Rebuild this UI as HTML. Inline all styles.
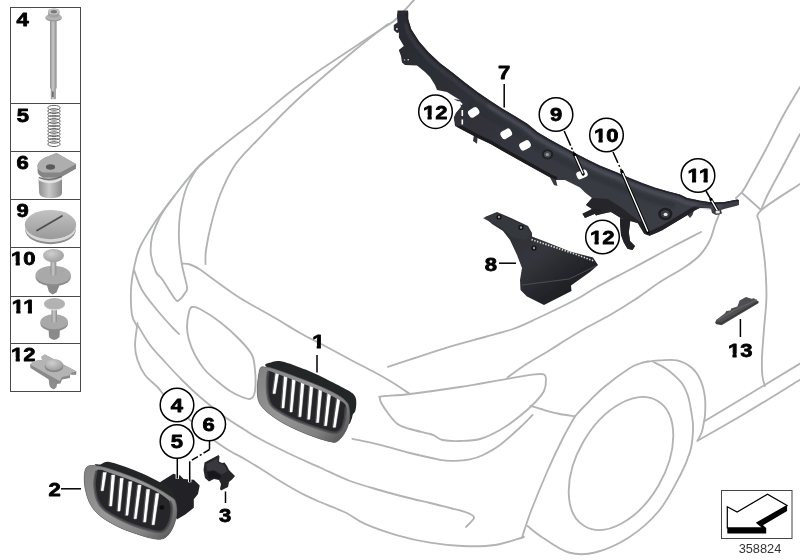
<!DOCTYPE html>
<html><head><meta charset="utf-8"><title>358824</title>
<style>
html,body{margin:0;padding:0;background:#fff;}
body{width:800px;height:560px;overflow:hidden;}
svg{display:block;}
text{font-family:"Liberation Sans",sans-serif;}
.b{font-weight:700;fill:#000;stroke:#000;stroke-width:0.8px;stroke-linejoin:round;}
</style></head><body>
<svg width="800" height="560" viewBox="0 0 800 560">
<defs>
<linearGradient id="cw" gradientUnits="userSpaceOnUse" x1="560" y1="135" x2="540" y2="175"><stop offset="0" stop-color="#33353b"/><stop offset="0.35" stop-color="#44464d"/><stop offset="0.6" stop-color="#2d2f35"/><stop offset="1" stop-color="#202226"/></linearGradient>
<filter id="bl0" x="-2%" y="-2%" width="104%" height="104%"><feGaussianBlur stdDeviation="0.35"/></filter>
<filter id="bl" x="-5%" y="-5%" width="110%" height="110%"><feGaussianBlur stdDeviation="0.45"/></filter>
<filter id="bl2" x="-5%" y="-5%" width="110%" height="110%"><feGaussianBlur stdDeviation="0.8"/></filter>
<linearGradient id="cwg" gradientUnits="userSpaceOnUse" x1="400" y1="10" x2="720" y2="205"><stop offset="0" stop-color="#292b31"/><stop offset="0.3" stop-color="#2f3138"/><stop offset="0.55" stop-color="#373941"/><stop offset="1" stop-color="#3b3d45"/></linearGradient>
<linearGradient id="p8" gradientUnits="userSpaceOnUse" x1="500" y1="220" x2="560" y2="300"><stop offset="0" stop-color="#2a2c31"/><stop offset="0.5" stop-color="#34363c"/><stop offset="1" stop-color="#1d1e22"/></linearGradient>
<linearGradient id="fr1" gradientUnits="userSpaceOnUse" x1="258" y1="370" x2="335" y2="445"><stop offset="0" stop-color="#828282"/><stop offset="0.45" stop-color="#969696"/><stop offset="0.8" stop-color="#808080"/><stop offset="1" stop-color="#5a5a5a"/></linearGradient>
<linearGradient id="fr2" gradientUnits="userSpaceOnUse" x1="86" y1="468" x2="162" y2="542"><stop offset="0" stop-color="#828282"/><stop offset="0.45" stop-color="#989898"/><stop offset="0.8" stop-color="#848484"/><stop offset="1" stop-color="#606060"/></linearGradient>
<clipPath id="c1_190_m"><rect x="-40" y="-21.00" width="80" height="17.36"/><rect x="-0.19" y="-4.14" width="3.51" height="5.64"/></clipPath>
<clipPath id="c13_190_m"><rect x="-40" y="-21.00" width="80" height="17.36"/><rect x="-6.89" y="-4.14" width="3.51" height="5.64"/><rect x="-0.11" y="-4.14" width="10.17" height="6.64"/></clipPath>
<clipPath id="c12_190_m"><rect x="-40" y="-21.00" width="80" height="17.36"/><rect x="-6.85" y="-4.14" width="3.51" height="5.64"/><rect x="-0.07" y="-4.14" width="10.17" height="6.64"/></clipPath>
<clipPath id="c10_190_m"><rect x="-40" y="-21.00" width="80" height="17.36"/><rect x="-6.84" y="-4.14" width="3.51" height="5.64"/><rect x="-0.06" y="-4.14" width="10.17" height="6.64"/></clipPath>
<clipPath id="c11_190_m"><rect x="-40" y="-21.00" width="80" height="17.36"/><rect x="-5.17" y="-4.14" width="3.51" height="5.64"/><rect x="4.80" y="-4.14" width="3.51" height="5.64"/></clipPath>
<linearGradient id="gm" x1="0" x2="1" y1="0" y2="0"><stop offset="0" stop-color="#8e8e8e"/><stop offset="0.45" stop-color="#c9c9c9"/><stop offset="1" stop-color="#8a8a8a"/></linearGradient>
<linearGradient id="gd" x1="0" x2="0" y1="0" y2="1"><stop offset="0" stop-color="#c2c2c2"/><stop offset="1" stop-color="#9a9a9a"/></linearGradient>
<radialGradient id="gr" cx="0.4" cy="0.35" r="0.7"><stop offset="0" stop-color="#cfcfcf"/><stop offset="1" stop-color="#9c9c9c"/></radialGradient>
<clipPath id="c10_190_s"><rect x="-40" y="-21.00" width="80" height="17.36"/><rect x="2.69" y="-4.14" width="3.51" height="5.64"/><rect x="9.47" y="-4.14" width="10.17" height="6.64"/></clipPath>
<clipPath id="c11_190_s"><rect x="-40" y="-21.00" width="80" height="17.36"/><rect x="2.69" y="-4.14" width="3.51" height="5.64"/><rect x="12.65" y="-4.14" width="3.51" height="5.64"/></clipPath>
<clipPath id="c12_190_s"><rect x="-40" y="-21.00" width="80" height="17.36"/><rect x="2.69" y="-4.14" width="3.51" height="5.64"/><rect x="9.47" y="-4.14" width="10.17" height="6.64"/></clipPath>
</defs>
<rect width="800" height="560" fill="#fff"/>
<g fill="none" stroke="#b2b3b5" stroke-width="1.85" filter="url(#bl0)" stroke-linecap="round" stroke-linejoin="round">
<path d="M414.0,0.0 C410.8,3.3 400.7,15.0 395.0,20.0 C389.3,25.0 387.5,25.0 380.0,30.0 C372.5,35.0 360.0,43.3 350.0,50.0 C340.0,56.7 330.0,63.0 320.0,70.0 C310.0,77.0 300.0,84.2 290.0,92.0 C280.0,99.8 270.0,109.0 260.0,117.0 C250.0,125.0 240.0,132.0 230.0,140.0 C220.0,148.0 209.2,155.8 200.0,165.0 C190.8,174.2 182.5,185.5 175.0,195.0 C167.5,204.5 160.8,213.3 155.0,222.0 C149.2,230.7 143.5,239.3 140.0,247.0 C136.5,254.7 135.5,260.8 134.0,268.0 C132.5,275.2 131.3,282.2 131.0,290.0 C130.7,297.8 131.0,309.0 132.0,315.0 C133.0,321.0 136.2,324.2 137.0,326.0"/>
<path d="M388.0,24.0 C382.5,28.3 370.2,37.3 355.0,50.0 C339.8,62.7 313.2,85.0 297.0,100.0 C280.8,115.0 267.8,129.2 257.5,140.0 C247.2,150.8 241.2,155.8 235.0,165.0 C228.8,174.2 224.0,185.0 220.0,195.0 C216.0,205.0 213.3,215.8 211.0,225.0 C208.7,234.2 206.9,243.5 206.0,250.0 C205.1,256.5 205.6,261.7 205.5,264.0"/>
<path d="M213.0,154.0 C211.6,155.2 207.3,158.6 204.5,161.3 C201.7,164.0 199.1,165.4 196.0,170.0 C192.9,174.6 188.7,181.5 186.0,189.0 C183.3,196.5 181.2,206.5 180.0,215.0 C178.8,223.5 178.7,231.7 179.0,240.0 C179.3,248.3 180.7,257.2 182.0,265.0 C183.3,272.8 186.5,282.3 187.0,287.0 C187.5,291.7 186.3,290.8 185.0,293.0 C183.7,295.2 180.7,299.0 179.0,300.0 C177.3,301.0 177.8,302.5 175.0,299.0 C172.2,295.5 165.2,283.5 162.0,279.0 C158.8,274.5 157.8,276.0 156.0,272.0 C154.2,268.0 151.7,260.8 151.0,255.0 C150.3,249.2 150.7,243.0 152.0,237.0 C153.3,231.0 156.5,224.2 159.0,219.0 C161.5,213.8 164.4,209.8 167.0,206.0 C169.6,202.2 173.2,197.7 174.5,196.0"/>
<path d="M182.0,263.5 C183.3,263.7 187.0,263.5 190.0,264.5 C193.0,265.5 195.8,266.8 200.0,269.5 C204.2,272.2 208.3,275.8 215.0,280.5 C221.7,285.2 230.0,291.8 240.0,298.0 C250.0,304.2 265.0,312.2 275.0,318.0 C285.0,323.8 291.7,328.3 300.0,333.0 C308.3,337.7 316.7,341.6 325.0,346.0 C333.3,350.4 341.7,355.1 350.0,359.5 C358.3,363.9 367.9,368.7 375.0,372.5 C382.1,376.3 386.7,378.9 392.5,382.5 C398.3,386.1 407.1,392.1 410.0,394.0"/>
<path d="M134.0,270.0 C135.3,273.3 138.2,283.3 142.0,290.0 C145.8,296.7 152.0,303.8 157.0,310.0 C162.0,316.2 168.3,323.0 172.0,327.0 C175.7,331.0 177.8,332.8 179.0,334.0"/>
<path d="M137.5,323.0 C137.1,326.7 135.0,338.8 135.0,345.0 C135.0,351.2 135.8,355.0 137.5,360.0 C139.2,365.0 141.7,370.5 145.0,375.0 C148.3,379.5 154.2,383.5 157.5,387.0 C160.8,390.5 159.6,390.5 165.0,396.0 C170.4,401.5 181.7,412.5 190.0,420.0 C198.3,427.5 208.3,435.8 215.0,441.0 C221.7,446.2 225.0,448.0 230.0,451.0 C235.0,454.0 240.0,456.3 245.0,459.2 C250.0,462.1 255.0,465.1 260.0,468.2 C265.0,471.3 270.0,474.9 275.0,478.0 C280.0,481.1 285.0,484.1 290.0,487.0 C295.0,489.9 300.0,492.7 305.0,495.2 C310.0,497.7 315.0,499.9 320.0,502.0 C325.0,504.1 330.5,506.1 335.0,508.0 C339.5,509.9 342.0,510.6 347.0,513.2 C352.0,515.9 356.6,520.2 365.0,523.9 C373.4,527.6 386.6,532.2 397.4,535.3 C408.2,538.4 419.2,540.9 430.0,542.7 C440.8,544.5 451.5,545.6 462.3,546.0 C473.1,546.4 484.5,546.5 494.8,545.0 C505.1,543.5 519.1,538.3 524.0,537.0"/>
<path d="M137.5,325.0 C139.6,328.3 145.4,338.8 150.0,345.0 C154.6,351.2 159.7,356.2 165.0,362.0 C170.3,367.8 176.2,374.2 182.0,380.0 C187.8,385.8 192.8,390.8 200.0,397.0 C207.2,403.2 217.5,411.5 225.0,417.0 C232.5,422.5 239.2,426.3 245.0,430.0 C250.8,433.7 252.5,435.0 260.0,439.0 C267.5,443.0 280.0,449.2 290.0,454.0 C300.0,458.8 310.0,463.0 320.0,467.5 C330.0,472.0 339.8,477.2 350.0,481.0 C360.2,484.8 371.8,487.8 381.0,490.5 C390.2,493.2 396.8,494.9 405.0,497.0 C413.2,499.1 422.5,501.2 430.0,503.0 C437.5,504.8 444.7,506.7 450.0,508.0 C455.3,509.3 458.7,510.0 462.0,511.0 C465.3,512.0 468.0,512.8 470.0,514.0 C472.0,515.2 474.7,515.8 474.0,518.0 C473.3,520.2 467.3,525.5 466.0,527.0"/>
<path d="M352.5,438.8 C357.1,439.8 370.4,442.4 380.0,444.8 C389.6,447.1 400.0,450.5 410.0,453.0 C420.0,455.5 432.5,458.4 440.0,459.8 C447.5,461.1 450.0,460.9 455.0,460.8 C460.0,460.7 465.5,460.2 470.0,459.3 C474.5,458.4 477.0,457.9 482.0,455.5 C487.0,453.1 493.7,449.7 500.0,445.0 C506.3,440.3 514.6,432.5 520.0,427.5 C525.4,422.5 530.4,417.1 532.5,415.0"/>
<path d="M387.9,366.8 C392.4,365.3 404.6,361.4 415.0,358.0 C425.4,354.6 438.3,350.1 450.0,346.6 C461.7,343.1 474.5,339.9 485.0,337.0 C495.5,334.1 504.3,332.1 513.0,329.0 C521.7,325.9 526.7,323.3 537.0,318.5 C547.3,313.7 565.0,305.2 575.0,300.0 C585.0,294.8 587.0,292.5 597.0,287.0 C607.0,281.5 622.5,273.7 635.0,267.0 C647.5,260.3 661.0,252.8 672.0,247.0 C683.0,241.2 696.2,234.5 701.0,232.0"/>
<path d="M720.0,212.0 C719.2,214.2 716.7,220.3 715.0,225.0 C713.3,229.7 712.5,235.0 710.0,240.0 C707.5,245.0 704.2,250.5 700.0,255.0 C695.8,259.5 691.7,262.5 685.0,267.0 C678.3,271.5 668.3,276.6 660.0,282.0 C651.7,287.4 643.3,294.0 635.0,299.5 C626.7,305.0 618.3,310.2 610.0,315.0 C601.7,319.8 592.5,324.2 585.0,328.5 C577.5,332.8 570.8,336.9 565.0,340.5 C559.2,344.1 556.7,345.9 550.0,350.0 C543.3,354.1 532.1,360.4 525.0,365.0 C517.9,369.6 510.4,375.4 507.5,377.5"/>
<path d="M530.5,405.8 C532.9,406.5 540.1,408.9 545.0,410.3 C549.9,411.7 555.0,413.0 560.0,414.0 C565.0,415.0 572.5,415.9 575.0,416.3"/>
<path d="M575.0,416.3 C576.5,414.7 579.3,411.2 584.0,406.5 C588.7,401.8 595.5,394.3 603.0,388.0 C610.5,381.7 622.6,372.8 628.8,368.8 C634.9,364.7 636.8,364.7 640.0,363.5 C643.2,362.3 646.7,361.8 648.0,361.5"/>
<path d="M653.6,362.0 C655.5,363.0 661.4,365.7 665.0,368.0 C668.6,370.3 672.1,373.3 675.0,376.0 C677.9,378.7 680.3,380.7 682.5,384.0 C684.7,387.3 686.6,391.7 688.0,396.0 C689.4,400.3 690.2,405.2 691.0,410.0 C691.8,414.8 692.8,420.3 693.0,425.0 C693.2,429.7 693.0,433.5 692.5,438.0 C692.0,442.5 691.9,446.0 690.0,452.0 C688.1,458.0 686.2,463.9 681.0,473.8 C675.8,483.6 667.5,500.4 658.8,511.0 C650.0,521.6 639.4,530.6 628.8,537.5 C618.1,544.4 605.0,550.0 595.0,552.5 C585.0,555.0 577.5,555.0 568.8,552.5 C560.0,550.0 549.4,541.9 542.5,537.5 C535.6,533.1 530.0,527.9 527.5,526.0"/>
<path d="M575.0,416.3 C573.0,419.9 567.7,428.7 563.0,438.0 C558.3,447.3 552.3,459.8 547.0,472.0 C541.7,484.2 535.2,500.1 531.0,511.0 C526.8,521.9 523.5,533.1 522.0,537.5"/>
<path d="M648.0,361.5 C650.0,361.3 655.2,360.6 660.0,360.4 C664.8,360.2 671.7,359.1 677.0,360.4 C682.3,361.7 688.0,364.6 692.0,368.0 C696.0,371.4 698.5,375.7 700.7,380.7 C702.9,385.7 704.3,392.3 705.0,398.0 C705.7,403.7 705.2,411.1 705.0,415.0 C704.8,418.9 704.5,418.7 704.0,421.5 C703.5,424.3 702.9,428.8 701.8,432.0 C700.7,435.2 698.2,439.3 697.5,440.8"/>
<path d="M704.0,421.5 C713.8,415.6 747.0,395.6 763.0,386.0 C779.0,376.4 793.8,367.3 800.0,363.6"/>
<path d="M697.5,440.8 C705.5,436.2 728.7,423.2 745.8,413.0 C762.9,402.8 791.0,385.2 800.0,379.7"/>
<path d="M800.0,87.0 C797.2,91.8 788.8,105.3 783.0,116.0 C777.2,126.7 771.0,139.7 765.0,151.0 C759.0,162.3 750.8,177.2 747.0,184.0 C743.2,190.8 743.8,189.7 742.0,192.0 C740.2,194.3 737.0,197.0 736.0,198.0"/>
<path d="M800.0,134.0 C797.2,139.3 788.3,156.0 783.0,166.0 C777.7,176.0 771.7,186.7 768.0,194.0 C764.3,201.3 762.2,207.3 761.0,210.0"/>
<path d="M742.0,193.0 L761.0,210.0"/>
<path d="M800.0,184.0 C793.5,188.4 767.5,204.1 760.8,210.6 C754.0,217.1 759.2,217.6 759.5,223.0 C759.8,228.4 761.4,235.8 762.4,243.0 C763.4,250.2 764.5,256.8 765.2,266.0 C765.9,275.2 766.6,287.5 766.4,298.0 C766.2,308.5 764.7,319.2 764.0,329.0 C763.3,338.8 762.3,349.2 762.0,357.0 C761.7,364.8 761.9,371.2 762.4,376.0 C762.9,380.8 764.6,384.3 765.0,386.0"/>
<path d="M192.0,307.0 C193.8,306.5 195.3,306.5 200.0,309.0 C204.7,311.5 213.3,316.8 220.0,322.0 C226.7,327.2 234.7,334.5 240.0,340.0 C245.3,345.5 249.5,350.0 252.0,355.0 C254.5,360.0 254.4,365.0 255.0,370.0 C255.6,375.0 255.7,380.8 255.5,385.0 C255.3,389.2 254.9,392.7 254.0,395.0 C253.1,397.3 252.0,398.7 250.0,399.0 C248.0,399.3 245.3,398.3 242.0,397.0 C238.7,395.7 234.2,393.7 230.0,391.0 C225.8,388.3 221.2,384.5 217.0,381.0 C212.8,377.5 208.7,374.3 205.0,370.0 C201.3,365.7 197.7,360.0 195.0,355.0 C192.3,350.0 190.3,344.7 189.0,340.0 C187.7,335.3 187.0,331.7 187.0,327.0 C187.0,322.3 188.2,315.3 189.0,312.0 C189.8,308.7 190.2,307.5 192.0,307.0Z"/>
<path d="M382.0,396.3 C387.0,395.6 397.0,395.6 410.0,394.0 C423.0,392.4 443.3,389.6 460.0,387.0 C476.7,384.4 497.5,380.4 510.0,378.3 C522.5,376.2 529.3,374.9 535.0,374.3 C540.7,373.7 542.2,373.6 544.0,374.5 C545.8,375.4 546.0,377.2 546.0,380.0 C546.0,382.8 545.8,387.2 544.0,391.0 C542.2,394.8 539.0,398.3 535.0,402.5 C531.0,406.7 525.8,411.4 520.0,416.0 C514.2,420.6 506.7,426.2 500.0,430.0 C493.3,433.8 486.7,437.2 480.0,439.0 C473.3,440.8 466.2,440.8 460.0,441.0 C453.8,441.2 446.7,440.8 442.5,440.0 C438.3,439.2 437.1,437.0 435.0,436.0 C432.9,435.0 434.2,435.2 430.0,434.0 C425.8,432.8 415.4,430.7 410.0,429.0 C404.6,427.3 401.2,426.8 397.5,424.0 C393.8,421.2 390.2,416.1 387.5,412.5 C384.8,408.9 382.2,404.9 381.0,402.5 C379.8,400.1 379.8,399.0 380.0,398.0 C380.2,397.0 377.0,397.0 382.0,396.3Z"/>
<ellipse cx="621" cy="463.5" rx="43.5" ry="72.5" transform="rotate(30 621 463.5)"/>
</g>
<g filter="url(#bl)">
<path d="M397.5,10.6 L408.0,10.6 L408.0,18.8 L411.0,28.8 L418.8,41.0 L428.8,52.5 L440.0,63.0 L452.5,72.5 L465.0,82.5 L477.5,92.0 L490.0,100.6 L503.8,109.4 L515.0,116.0 L527.5,123.8 L537.5,132.0 L550.0,139.4 L562.5,146.2 L575.0,153.0 L587.5,159.4 L600.0,165.5 L617.5,172.5 L630.0,178.0 L642.5,183.0 L655.0,187.5 L667.5,191.2 L680.0,194.4 L687.5,198.0 L700.0,200.6 L712.5,202.5 L725.0,202.0 L737.5,199.4 L739.0,200.0 L739.0,205.0 L736.0,206.0 L725.0,208.8 L721.0,210.0 L722.0,213.5 L716.0,215.0 L712.0,213.0 L711.0,208.8 L705.0,207.0 L700.0,207.5 L693.8,211.0 L692.5,215.0 L690.0,218.0 L687.5,215.0 L675.0,222.5 L662.5,230.0 L657.5,232.5 L650.0,235.6 L645.0,233.8 L642.5,227.5 L640.0,223.8 L630.5,221.0 L630.0,222.5 L628.8,232.5 L630.0,241.0 L635.0,246.0 L632.5,250.0 L627.5,248.8 L623.8,242.5 L621.0,235.0 L620.0,222.5 L620.0,217.5 L611.0,212.0 L607.5,212.5 L596.0,215.6 L595.0,213.8 L585.0,218.0 L582.5,213.8 L592.0,209.0 L586.0,205.0 L592.0,198.0 L585.0,192.5 L580.0,187.5 L565.0,180.0 L556.0,180.0 L557.5,186.0 L554.0,185.0 L550.0,177.5 L527.5,165.0 L515.0,158.0 L502.5,151.0 L490.0,143.8 L477.5,138.0 L477.0,143.8 L473.0,141.0 L473.8,136.0 L460.0,128.8 L455.0,126.0 L453.8,117.5 L456.0,113.0 L461.0,107.0 L460.0,100.0 L455.0,97.0 L447.0,92.0 L437.0,90.0 L435.0,85.0 L430.0,77.0 L425.0,72.0 L417.0,65.5 L405.0,65.0 L402.0,62.5 L401.0,56.0 L398.8,50.0 L403.8,46.0 L398.8,37.5 L399.0,32.5 L397.0,33.0 L393.8,30.0 L393.8,25.0 L397.5,22.5 L397.0,16.0Z" fill="url(#cwg)"/>
<path d="M457.0,127.0 L473.8,136.0 L490.0,143.8 L502.5,151.0 L515.0,158.0 L527.5,165.0 L550.0,177.5 L556.0,180.0" fill="none" stroke="#1a1b1e" stroke-width="3.2" transform="translate(0.8,-1.6)"/>
<path d="M640.0,224.0 L646.0,234.0 L650.0,235.6 L662.5,230.0 L675.0,222.5 L687.5,215.0 L693.8,211.0 L700.0,207.8 L711.0,208.0" fill="none" stroke="#202125" stroke-width="4.2" stroke-linejoin="round" transform="translate(-0.6,-2)"/>
<path d="M592.0,198.0 L608.0,199.0 L622.0,208.0 L640.0,222.0 L640.0,223.8 L630.5,221.0 L620.0,217.5 L611.0,212.0 L596.0,215.0 L592.0,209.0 L586.0,205.0Z" fill="#25262b"/>
<path d="M620.0,219.0 L630.5,219.0 L630.0,222.5 L628.8,232.5 L630.0,241.0 L635.0,246.0 L632.5,250.0 L627.5,248.8 L623.8,242.5 L621.0,235.0 L620.0,222.5Z" fill="#222327"/>
<path d="M596.0,215.6 L595.0,213.8 L585.0,218.0 L582.5,213.8 L592.0,209.0 L600.0,209.0 L602.0,213.0Z" fill="#222327"/>
<g filter="url(#bl2)">
<path d="M408.0,18.8 L411.0,28.8 L418.8,41.0 L428.8,52.5 L440.0,63.0 L452.5,72.5 L465.0,82.5 L477.5,92.0 L490.0,100.6" fill="none" stroke="#4d4f59" stroke-width="3" opacity="0.4" transform="translate(-2.6,4.6)"/>
<path d="M490.0,100.6 L503.8,109.4 L515.0,116.0 L527.5,123.8 L537.5,132.0 L550.0,139.4 L562.5,146.2 L575.0,153.0 L587.5,159.4 L600.0,165.5 L617.5,172.5 L630.0,178.0 L642.5,183.0 L655.0,187.5 L667.5,191.2 L680.0,194.4 L687.5,198.0 L700.0,200.6 L712.5,202.5 L725.0,202.0" fill="none" stroke="#4d4f59" stroke-width="3.4" opacity="0.9" transform="translate(-2.6,4.6)"/>
<path d="M477.5,92.0 L490.0,100.6 L503.8,109.4 L515.0,116.0 L527.5,123.8 L537.5,132.0 L550.0,139.4 L562.5,146.2 L575.0,153.0 L587.5,159.4 L600.0,165.5 L617.5,172.5 L630.0,178.0 L642.5,183.0 L655.0,187.5 L667.5,191.2 L680.0,194.4" fill="none" stroke="#2c2d33" stroke-width="5" opacity="0.55" transform="translate(-6,11)"/>
</g>
<path d="M408.0,10.6 L408.0,18.8 L411.0,28.8 L418.8,41.0 L428.8,52.5 L440.0,63.0 L452.5,72.5 L465.0,82.5 L477.5,92.0 L490.0,100.6 L503.8,109.4 L515.0,116.0 L527.5,123.8 L537.5,132.0 L550.0,139.4 L562.5,146.2 L575.0,153.0 L587.5,159.4 L600.0,165.5 L617.5,172.5 L630.0,178.0 L642.5,183.0 L655.0,187.5 L667.5,191.2 L680.0,194.4 L687.5,198.0 L700.0,200.6 L712.5,202.5 L725.0,202.0 L737.5,199.4 L739.0,200.0" fill="none" stroke="#232429" stroke-width="1.6" transform="translate(-0.5,0.9)"/>
<path d="M453.5,99 L460,100 L461,107 L456,113 L454,118 L456,126 L464,126 L463,104Z" fill="#303239"/>
<path d="M459,102 L461.5,104" stroke="#fff" stroke-width="2" stroke-linecap="round"/>
<path d="M462.3,110 V116 M462.3,119.5 V124.5" stroke="#fff" stroke-width="1.6"/>
<circle cx="396.9" cy="29" r="1" fill="#d8d8d8"/><circle cx="404.6" cy="60" r="0.7" fill="#bbb"/><circle cx="408.2" cy="59.7" r="0.8" fill="#ddd"/>
<rect x="468.2" y="108.2" width="11.0" height="8.2" rx="3" fill="#fff" transform="rotate(-33 473.8 112.3)"/>
<rect x="500.6" y="129.7" width="11.3" height="8.2" rx="3" fill="#fff" transform="rotate(-30 506.2 133.8)"/>
<rect x="519.4" y="141.2" width="11.3" height="8.2" rx="3" fill="#fff" transform="rotate(-28 525.0 145.3)"/>
<ellipse cx="547.5" cy="154.4" rx="5.6" ry="5" fill="#1f2024"/><ellipse cx="547.5" cy="154.4" rx="3.6" ry="3.1" fill="#4a4c52"/><ellipse cx="547.3" cy="154.6" rx="1.7" ry="1.5" fill="#9a9a9a"/>
<rect x="576.5" y="170.6" width="11" height="7.6" rx="2.6" fill="#fff" transform="rotate(-24 582 174.4)"/>
<ellipse cx="665.3" cy="214" rx="7" ry="6.2" fill="#1b1c20"/><ellipse cx="665.3" cy="214" rx="4.4" ry="3.8" fill="#3c3e44"/><ellipse cx="665.6" cy="214.4" rx="2" ry="1.7" fill="#e8e8e8"/>
</g>
<g filter="url(#bl)">
<path d="M485.0,217.0 L497.0,212.0 L511.0,218.0 L528.0,226.0 L532.0,233.0 L532.0,236.5 L545.0,241.5 L570.0,251.5 L593.0,257.5 L598.0,265.0 L590.0,272.0 L571.0,285.5 L571.5,291.0 L544.0,305.0 L527.0,296.5 L520.5,290.0 L520.0,280.0 L522.0,268.0 L517.0,255.0 L510.0,240.0 L503.0,231.0 L492.0,224.0Z" fill="url(#p8)"/>
<path d="M531.5,239.6 L575,254 L594,261" stroke="#dcdcdc" stroke-width="1.7" stroke-dasharray="1.4 1.5" fill="none"/>
<path d="M483,218 L497,213 L527,227 L530,234 L526,240 L514,238 L503,229 L492,223Z" fill="#36383e"/>
<path d="M522,285 L569,279 L596,266" stroke="#4a4c52" stroke-width="1" fill="none"/>
<circle cx="499" cy="217" r="2.6" fill="#111"/><circle cx="499" cy="217" r="1.2" fill="#999"/>
<circle cx="521" cy="227.5" r="2.6" fill="#111"/><circle cx="521" cy="227.5" r="1.2" fill="#999"/>
<circle cx="534" cy="248" r="2.6" fill="#111"/><circle cx="534" cy="248" r="1.2" fill="#999"/>
</g>
<g filter="url(#bl)">
<path d="M715.0,322.8 L716.4,319.7 L725.0,313.2 L726.4,311.0 L730.4,310.6 L731.2,308.4 L737.4,306.6 L739.6,300.5 L746.0,297.0 L751.4,298.8 L754.0,298.3 L758.4,301.4 L758.4,303.2 L721.6,325.2 L716.4,324.2Z" fill="#4f4f52"/>
<path d="M716,322.6 L721.6,323.2 L758.3,301.6" stroke="#39393b" stroke-width="1.6" fill="none"/>
<path d="M718,320 L727,314.2 L738.5,308.3 L757,299.8" stroke="#646467" stroke-width="1.1" fill="none"/>
</g>
<g filter="url(#bl)">
<path d="M204.5,462.5 L218.5,455.0 L219.5,456.5 L219.0,461.5 L222.0,463.0 L224.5,462.5 L227.0,466.0 L229.0,470.0 L235.0,476.0 L232.0,479.5 L229.0,482.0 L228.0,487.0 L221.0,490.5 L220.0,489.0 L221.0,484.0 L219.0,480.0 L214.0,479.0 L209.0,481.5 L205.0,478.0 L203.5,470.0Z" fill="#25262a"/>
<path d="M206,464.5 L217.5,458.3 L218,462.5 L224,465 L227.5,471 L222,474.5 L214,470 L207.5,471Z" fill="#38393e"/>
<path d="M207,472 L213.5,471 L221,475.5 L220,479 L213.5,477.5 L209,479.5Z" fill="#17181a"/>
</g>
<g filter="url(#bl)">
<path d="M266.9,367.2 C262.3,363.1 268.3,363.4 270.9,362.4 C273.4,361.4 276.2,360.2 282.1,361.4 C288.0,362.7 298.2,366.5 306.2,369.8 C314.3,373.1 323.1,377.6 330.3,381.2 C337.6,384.8 345.4,388.7 349.6,391.3 C353.7,393.9 354.1,394.8 355.2,396.8 C356.3,398.7 356.3,400.8 356.3,403.2 C356.3,405.6 355.8,409.4 355.2,411.2 C354.6,413.1 353.4,413.1 352.8,414.4 C352.2,415.8 352.3,417.7 351.5,419.3 C350.8,420.8 350.2,425.1 348.3,423.8 C346.4,422.4 348.3,417.3 340.0,411.2 C331.6,405.1 310.4,394.5 298.2,387.1 C286.0,379.8 271.4,371.3 266.9,367.2Z" fill="#242528"/>
<path d="M260.4,367.9 C259.1,369.8 258.6,375.3 258.0,379.1 C257.5,382.8 257.1,386.6 257.2,390.3 C257.4,394.1 257.4,398.1 258.8,401.6 C260.3,405.1 262.2,407.7 266.1,411.2 C269.9,414.7 276.8,419.3 282.1,422.5 C287.5,425.7 292.8,428.1 298.2,430.5 C303.5,432.9 308.9,435.1 314.3,436.9 C319.6,438.8 326.6,440.9 330.3,441.7 C334.1,442.6 334.6,442.8 336.7,441.7 C338.9,440.7 341.3,438.0 343.2,435.3 C345.0,432.6 346.9,428.9 348.0,425.7 C349.1,422.5 349.5,419.3 349.6,416.0 C349.7,412.8 349.3,408.8 348.8,406.4 C348.3,404.0 347.9,403.6 346.4,401.9 C344.9,400.2 344.0,398.9 340.0,396.4 C335.9,394.0 329.3,390.4 322.3,387.3 C315.3,384.2 306.2,380.7 298.2,377.7 C290.2,374.6 279.5,370.7 274.1,369.0 C268.7,367.2 268.3,367.4 266.1,367.2 C263.8,367.0 261.8,365.9 260.4,367.9Z" fill="#27282b"/>
<path d="M275.7,372.0 L278.9,372.0 L275.3,393.6 L272.9,393.6 Z" fill="#fff" stroke="#fff" stroke-width="0.5" stroke-linejoin="round"/>
<path d="M275.0,373.0 L272.2,393.6" stroke="#55565a" stroke-width="0.9" fill="none"/>
<path d="M284.1,375.2 L287.3,375.2 L284.1,408.0 L281.7,408.0 Z" fill="#fff" stroke="#fff" stroke-width="0.5" stroke-linejoin="round"/>
<path d="M283.4,376.2 L281.0,408.0" stroke="#55565a" stroke-width="0.9" fill="none"/>
<path d="M292.3,378.5 L295.5,378.5 L292.2,412.0 L289.8,412.0 Z" fill="#fff" stroke="#fff" stroke-width="0.5" stroke-linejoin="round"/>
<path d="M291.6,379.5 L289.1,412.0" stroke="#55565a" stroke-width="0.9" fill="none"/>
<path d="M301.1,381.7 L304.3,381.7 L301.0,416.8 L298.6,416.8 Z" fill="#fff" stroke="#fff" stroke-width="0.5" stroke-linejoin="round"/>
<path d="M300.4,382.7 L297.9,416.8" stroke="#55565a" stroke-width="0.9" fill="none"/>
<path d="M309.9,385.5 L313.1,385.5 L309.8,419.3 L307.4,419.3 Z" fill="#fff" stroke="#fff" stroke-width="0.5" stroke-linejoin="round"/>
<path d="M309.2,386.5 L306.7,419.3" stroke="#55565a" stroke-width="0.9" fill="none"/>
<path d="M318.8,388.9 L322.0,388.9 L318.7,422.5 L316.3,422.5 Z" fill="#fff" stroke="#fff" stroke-width="0.5" stroke-linejoin="round"/>
<path d="M318.1,389.9 L315.6,422.5" stroke="#55565a" stroke-width="0.9" fill="none"/>
<path d="M327.6,392.9 L330.8,392.9 L326.7,425.7 L324.3,425.7 Z" fill="#fff" stroke="#fff" stroke-width="0.5" stroke-linejoin="round"/>
<path d="M326.9,393.9 L323.6,425.7" stroke="#55565a" stroke-width="0.9" fill="none"/>
<path d="M337.1,397.7 L340.3,397.7 L335.5,427.3 L333.1,427.3 Z" fill="#fff" stroke="#fff" stroke-width="0.5" stroke-linejoin="round"/>
<path d="M336.4,398.7 L332.4,427.3" stroke="#55565a" stroke-width="0.9" fill="none"/>
<path d="M260.4,367.9 C259.1,369.8 258.6,375.3 258.0,379.1 C257.5,382.8 257.1,386.6 257.2,390.3 C257.4,394.1 257.4,398.1 258.8,401.6 C260.3,405.1 262.2,407.7 266.1,411.2 C269.9,414.7 276.8,419.3 282.1,422.5 C287.5,425.7 292.8,428.1 298.2,430.5 C303.5,432.9 308.9,435.1 314.3,436.9 C319.6,438.8 326.6,440.9 330.3,441.7 C334.1,442.6 334.6,442.8 336.7,441.7 C338.9,440.7 341.3,438.0 343.2,435.3 C345.0,432.6 346.9,428.9 348.0,425.7 C349.1,422.5 349.5,419.3 349.6,416.0 C349.7,412.8 349.3,408.8 348.8,406.4 C348.3,404.0 347.9,403.6 346.4,401.9 C344.9,400.2 344.0,398.9 340.0,396.4 C335.9,394.0 329.3,390.4 322.3,387.3 C315.3,384.2 306.2,380.7 298.2,377.7 C290.2,374.6 279.5,370.7 274.1,369.0 C268.7,367.2 268.3,367.4 266.1,367.2 C263.8,367.0 261.8,365.9 260.4,367.9Z M268.0,371.9 C266.8,373.5 267.1,378.7 267.0,382.3 C266.9,385.9 267.1,390.3 267.5,393.6 C267.9,396.8 268.3,399.2 269.4,401.6 C270.5,404.0 270.6,405.3 274.1,408.0 C277.6,410.7 284.8,415.0 290.2,417.7 C295.5,420.3 300.9,422.1 306.2,424.1 C311.6,426.1 317.5,428.2 322.3,429.7 C327.1,431.2 331.9,433.0 335.1,432.9 C338.4,432.8 340.0,431.2 341.6,428.9 C343.2,426.6 344.1,422.7 344.8,419.3 C345.5,415.8 345.9,410.6 345.9,408.0 C345.9,405.5 345.9,405.3 344.8,404.0 C343.7,402.7 342.9,402.1 339.2,400.0 C335.4,397.9 329.1,394.4 322.3,391.3 C315.5,388.3 306.2,384.8 298.2,381.7 C290.2,378.6 279.1,374.3 274.1,372.7 C269.1,371.0 269.2,370.3 268.0,371.9Z" fill-rule="evenodd" fill="url(#fr1)"/>
<path d="M268.0,371.9 C267.8,373.6 267.1,378.7 267.0,382.3 C266.9,385.9 267.1,390.3 267.5,393.6 C267.9,396.8 268.3,399.2 269.4,401.6 C270.5,404.0 270.6,405.3 274.1,408.0 C277.6,410.7 284.8,415.0 290.2,417.7 C295.5,420.3 300.9,422.1 306.2,424.1 C311.6,426.1 317.5,428.2 322.3,429.7 C327.1,431.2 331.9,433.0 335.1,432.9 C338.4,432.8 340.0,431.2 341.6,428.9 C343.2,426.6 344.1,422.7 344.8,419.3 C345.5,415.8 345.7,409.9 345.9,408.0" fill="none" stroke="#4e4e51" stroke-width="2.6" opacity="0.75" stroke-linecap="round"/>
<path d="M260.4,367.9 C259.1,369.8 258.6,375.3 258.0,379.1 C257.5,382.8 257.1,386.6 257.2,390.3 C257.4,394.1 257.4,398.1 258.8,401.6 C260.3,405.1 262.2,407.7 266.1,411.2 C269.9,414.7 276.8,419.3 282.1,422.5 C287.5,425.7 292.8,428.1 298.2,430.5 C303.5,432.9 308.9,435.1 314.3,436.9 C319.6,438.8 326.6,440.9 330.3,441.7 C334.1,442.6 334.6,442.8 336.7,441.7 C338.9,440.7 341.3,438.0 343.2,435.3 C345.0,432.6 346.9,428.9 348.0,425.7 C349.1,422.5 349.5,419.3 349.6,416.0 C349.7,412.8 349.3,408.8 348.8,406.4 C348.3,404.0 347.9,403.6 346.4,401.9 C344.9,400.2 344.0,398.9 340.0,396.4 C335.9,394.0 329.3,390.4 322.3,387.3 C315.3,384.2 306.2,380.7 298.2,377.7 C290.2,374.6 279.5,370.7 274.1,369.0 C268.7,367.2 268.3,367.4 266.1,367.2 C263.8,367.0 261.8,365.9 260.4,367.9Z" fill="none" stroke="#6c6c6c" stroke-width="0.8" opacity="0.8"/>
</g>
<g filter="url(#bl)">
<path d="M159.9,482.2 L173.4,473.8 L180.2,475.5 L183.6,478.9 L193.8,479.7 L199.7,485.6 L198.0,494.1 L193.8,499.2 L193.8,507.7 L185.3,514.5 L176.8,519.6 L170.0,500.9Z" fill="#222326"/>
<path d="M96.2,466.1 C92.0,462.9 98.3,465.1 100.5,464.4 C102.6,463.7 104.7,461.5 108.9,461.9 C113.2,462.3 120.3,465.0 125.9,467.0 C131.6,469.0 137.2,471.2 142.9,473.8 C148.5,476.3 155.3,480.0 159.9,482.2 C164.4,484.5 167.2,484.2 170.0,487.3 C172.9,490.4 176.8,497.8 176.8,500.9 C176.8,504.0 178.5,508.8 170.0,506.0 C161.6,503.2 138.2,490.6 125.9,483.9 C113.6,477.3 100.5,469.4 96.2,466.1Z" fill="#242528"/>
<path d="M86.9,467.0 C85.0,468.6 84.6,471.8 84.3,475.5 C84.1,479.1 84.2,484.2 85.2,489.0 C86.2,493.8 87.7,499.8 90.3,504.3 C92.8,508.8 95.9,512.5 100.5,516.2 C105.0,519.9 111.8,523.5 117.4,526.4 C123.1,529.2 128.7,531.2 134.4,533.2 C140.1,535.1 146.8,537.3 151.4,538.3 C155.9,539.2 158.7,539.7 161.6,539.1 C164.4,538.5 166.4,537.0 168.3,534.9 C170.3,532.7 172.2,529.2 173.4,526.4 C174.7,523.5 175.4,520.7 176.0,517.9 C176.5,515.1 177.0,512.2 176.8,509.4 C176.7,506.6 176.0,502.9 175.1,500.9 C174.3,498.9 174.3,499.4 171.7,497.5 C169.2,495.7 164.7,492.6 159.9,489.9 C155.0,487.2 148.5,483.9 142.9,481.4 C137.2,478.9 131.6,476.7 125.9,474.6 C120.3,472.5 114.0,470.1 108.9,468.7 C103.9,467.2 99.0,466.1 95.4,465.8 C91.7,465.5 88.7,465.4 86.9,467.0Z" fill="#27282b"/>
<path d="M103.1,472.4 L106.3,472.4 L103.4,490.7 L101.0,490.7 Z" fill="#fff" stroke="#fff" stroke-width="0.5" stroke-linejoin="round"/>
<path d="M102.4,473.4 L100.3,490.7" stroke="#55565a" stroke-width="0.9" fill="none"/>
<path d="M111.6,475.1 L114.8,475.1 L111.8,506.0 L109.4,506.0 Z" fill="#fff" stroke="#fff" stroke-width="0.5" stroke-linejoin="round"/>
<path d="M110.9,476.1 L108.7,506.0" stroke="#55565a" stroke-width="0.9" fill="none"/>
<path d="M120.1,478.3 L123.3,478.3 L120.0,511.1 L117.6,511.1 Z" fill="#fff" stroke="#fff" stroke-width="0.5" stroke-linejoin="round"/>
<path d="M119.4,479.3 L116.9,511.1" stroke="#55565a" stroke-width="0.9" fill="none"/>
<path d="M128.7,481.7 L131.9,481.7 L128.0,515.3 L125.6,515.3 Z" fill="#fff" stroke="#fff" stroke-width="0.5" stroke-linejoin="round"/>
<path d="M128.0,482.7 L124.9,515.3" stroke="#55565a" stroke-width="0.9" fill="none"/>
<path d="M137.9,485.1 L141.1,485.1 L136.4,518.7 L134.0,518.7 Z" fill="#fff" stroke="#fff" stroke-width="0.5" stroke-linejoin="round"/>
<path d="M137.2,486.1 L133.3,518.7" stroke="#55565a" stroke-width="0.9" fill="none"/>
<path d="M146.5,489.4 L149.7,489.4 L145.8,522.1 L143.4,522.1 Z" fill="#fff" stroke="#fff" stroke-width="0.5" stroke-linejoin="round"/>
<path d="M145.8,490.4 L142.7,522.1" stroke="#55565a" stroke-width="0.9" fill="none"/>
<path d="M155.7,493.6 L158.9,493.6 L154.3,524.7 L151.9,524.7 Z" fill="#fff" stroke="#fff" stroke-width="0.5" stroke-linejoin="round"/>
<path d="M155.0,494.6 L151.2,524.7" stroke="#55565a" stroke-width="0.9" fill="none"/>
<path d="M86.9,467.0 C85.0,468.6 84.6,471.8 84.3,475.5 C84.1,479.1 84.2,484.2 85.2,489.0 C86.2,493.8 87.7,499.8 90.3,504.3 C92.8,508.8 95.9,512.5 100.5,516.2 C105.0,519.9 111.8,523.5 117.4,526.4 C123.1,529.2 128.7,531.2 134.4,533.2 C140.1,535.1 146.8,537.3 151.4,538.3 C155.9,539.2 158.7,539.7 161.6,539.1 C164.4,538.5 166.4,537.0 168.3,534.9 C170.3,532.7 172.2,529.2 173.4,526.4 C174.7,523.5 175.4,520.7 176.0,517.9 C176.5,515.1 177.0,512.2 176.8,509.4 C176.7,506.6 176.0,502.9 175.1,500.9 C174.3,498.9 174.3,499.4 171.7,497.5 C169.2,495.7 164.7,492.6 159.9,489.9 C155.0,487.2 148.5,483.9 142.9,481.4 C137.2,478.9 131.6,476.7 125.9,474.6 C120.3,472.5 114.0,470.1 108.9,468.7 C103.9,467.2 99.0,466.1 95.4,465.8 C91.7,465.5 88.7,465.4 86.9,467.0Z M96.2,471.7 C95.2,474.1 94.4,479.4 94.5,483.9 C94.7,488.5 95.5,495.0 97.1,499.2 C98.6,503.5 100.5,506.3 103.9,509.4 C107.2,512.5 112.3,515.2 117.4,517.9 C122.5,520.6 128.7,523.4 134.4,525.5 C140.1,527.6 146.8,529.6 151.4,530.6 C155.9,531.7 158.9,532.5 161.6,531.8 C164.2,531.2 165.9,529.0 167.5,526.7 C169.0,524.4 170.2,521.1 170.9,517.9 C171.6,514.7 172.0,510.4 171.9,507.7 C171.8,505.0 172.4,504.3 170.4,501.9 C168.4,499.6 164.4,496.3 159.9,493.4 C155.3,490.6 148.5,487.5 142.9,485.0 C137.2,482.4 131.6,480.3 125.9,478.2 C120.3,476.1 113.2,473.8 108.9,472.4 C104.7,471.0 102.6,469.8 100.5,469.7 C98.3,469.6 97.2,469.3 96.2,471.7Z" fill-rule="evenodd" fill="url(#fr2)"/>
<path d="M96.2,471.7 C95.9,473.8 94.4,479.4 94.5,483.9 C94.7,488.5 95.5,495.0 97.1,499.2 C98.6,503.5 100.5,506.3 103.9,509.4 C107.2,512.5 112.3,515.2 117.4,517.9 C122.5,520.6 128.7,523.4 134.4,525.5 C140.1,527.6 146.8,529.6 151.4,530.6 C155.9,531.7 158.9,532.5 161.6,531.8 C164.2,531.2 165.9,529.0 167.5,526.7 C169.0,524.4 170.2,521.1 170.9,517.9 C171.6,514.7 172.0,510.4 171.9,507.7 C171.8,505.0 170.6,502.9 170.4,501.9" fill="none" stroke="#4e4e51" stroke-width="2.6" opacity="0.75" stroke-linecap="round"/>
<path d="M86.9,467.0 C85.0,468.6 84.6,471.8 84.3,475.5 C84.1,479.1 84.2,484.2 85.2,489.0 C86.2,493.8 87.7,499.8 90.3,504.3 C92.8,508.8 95.9,512.5 100.5,516.2 C105.0,519.9 111.8,523.5 117.4,526.4 C123.1,529.2 128.7,531.2 134.4,533.2 C140.1,535.1 146.8,537.3 151.4,538.3 C155.9,539.2 158.7,539.7 161.6,539.1 C164.4,538.5 166.4,537.0 168.3,534.9 C170.3,532.7 172.2,529.2 173.4,526.4 C174.7,523.5 175.4,520.7 176.0,517.9 C176.5,515.1 177.0,512.2 176.8,509.4 C176.7,506.6 176.0,502.9 175.1,500.9 C174.3,498.9 174.3,499.4 171.7,497.5 C169.2,495.7 164.7,492.6 159.9,489.9 C155.0,487.2 148.5,483.9 142.9,481.4 C137.2,478.9 131.6,476.7 125.9,474.6 C120.3,472.5 114.0,470.1 108.9,468.7 C103.9,467.2 99.0,466.1 95.4,465.8 C91.7,465.5 88.7,465.4 86.9,467.0Z" fill="none" stroke="#6c6c6c" stroke-width="0.8" opacity="0.8"/>
<ellipse cx="161.8" cy="507.5" rx="2.6" ry="2.2" fill="#0c0c0d"/>
</g>
<g filter="url(#bl0)">
<g stroke="#000" stroke-width="1.5" fill="none">
<path d="M317,355 V372.5"/>
<path d="M61,488.8 H81"/>
<path d="M225.5,491.5 V503"/>
<path d="M504.2,84 V107.5"/>
<path d="M499,263.2 H516"/>
<path d="M740.4,319 V337"/>
<path d="M177.3,474 V478.8" stroke="#fff" stroke-width="3.4"/>
<path d="M177.3,458 V478.5"/>
<path d="M209.5,441 V449.5"/>
<path d="M209.5,449.5 L189.7,461.5" stroke-dasharray="7 2.2 2.2 2.2"/>
<path d="M189.7,477.5 V482.3" stroke="#fff" stroke-width="3.4"/>
<path d="M189.7,461.5 V482"/>
<path d="M564.2,131 L575,155.5" stroke-dasharray="16 2.2 2 2.2 20"/>
<path d="M574.6,154.5 L583.2,174" stroke-width="3.2" stroke-linecap="round"/>
<path d="M613,152 L622.5,173" stroke-dasharray="12 2.2 2 2.2 20"/>
<path d="M621.8,171.5 L648,232" stroke-width="3.2" stroke-linecap="round"/>
<path d="M706,191 L711.5,200.5"/>
<path d="M711,199.5 L718.5,212.5" stroke-width="3.2" stroke-linecap="round"/>
</g>
<path d="M622.6,173 L647.8,231.5" stroke="#fff" stroke-width="1.4" fill="none"/>
<path d="M575.2,156 L583,173.5" stroke="#fff" stroke-width="1.4" fill="none"/>
<path d="M711.6,200.6 L718.3,212.2" stroke="#fff" stroke-width="1.4" fill="none"/>
<rect x="715.4" y="210.6" width="4.6" height="3.2" rx="0.8" fill="#ededed" stroke="#2a2a2a" stroke-width="0.5"/>
<text class="b" transform="translate(317.0,347.8) scale(1.16,1)" font-size="19.0" x="-4.17" clip-path="url(#c1_190_m)">1</text>
<text class="b" transform="translate(54.5,495.8) scale(1.16,1)" font-size="19.0" x="-5.23">2</text>
<text class="b" transform="translate(225.0,522.3) scale(1.16,1)" font-size="19.0" x="-5.16">3</text>
<text class="b" transform="translate(504.0,79.3) scale(1.16,1)" font-size="19.0" x="-5.27">7</text>
<text class="b" transform="translate(490.8,270.8) scale(1.16,1)" font-size="19.0" x="-5.29">8</text>
<text class="b" transform="translate(740.5,356.8) scale(1.16,1)" font-size="19.0" x="-10.87 -0.31" clip-path="url(#c13_190_m)">13</text>
<circle cx="177.0" cy="405.0" r="16.8" fill="#fff" stroke="#000" stroke-width="1.5"/>
<text class="b" transform="translate(177.0,411.8) scale(1.16,1)" font-size="19.0" x="-5.38">4</text>
<circle cx="177.0" cy="441.5" r="16.8" fill="#fff" stroke="#000" stroke-width="1.5"/>
<text class="b" transform="translate(177.0,448.3) scale(1.16,1)" font-size="19.0" x="-5.31">5</text>
<circle cx="208.7" cy="424.0" r="16.8" fill="#fff" stroke="#000" stroke-width="1.5"/>
<text class="b" transform="translate(208.7,430.8) scale(1.16,1)" font-size="19.0" x="-5.29">6</text>
<circle cx="435.5" cy="111.7" r="16.8" fill="#fff" stroke="#000" stroke-width="1.5"/>
<text class="b" transform="translate(435.5,118.5) scale(1.16,1)" font-size="19.0" x="-10.84 -0.27" clip-path="url(#c12_190_m)">12</text>
<circle cx="556.0" cy="114.5" r="16.8" fill="#fff" stroke="#000" stroke-width="1.5"/>
<text class="b" transform="translate(556.0,121.3) scale(1.16,1)" font-size="19.0" x="-5.26">9</text>
<circle cx="606.5" cy="135.0" r="16.8" fill="#fff" stroke="#000" stroke-width="1.5"/>
<text class="b" transform="translate(606.5,141.8) scale(1.16,1)" font-size="19.0" x="-10.83 -0.26" clip-path="url(#c10_190_m)">10</text>
<circle cx="698.0" cy="175.5" r="16.8" fill="#fff" stroke="#000" stroke-width="1.5"/>
<text class="b" transform="translate(698.0,182.3) scale(1.16,1)" font-size="19.0" x="-9.15 0.81" clip-path="url(#c11_190_m)">11</text>
<circle cx="602.5" cy="237.0" r="16.8" fill="#fff" stroke="#000" stroke-width="1.5"/>
<text class="b" transform="translate(602.5,243.8) scale(1.16,1)" font-size="19.0" x="-10.84 -0.27" clip-path="url(#c12_190_m)">12</text>
<rect x="721.5" y="490.5" width="70.5" height="48" fill="#fff" stroke="#444" stroke-width="1"/>
<path d="M727.3,506.8 L737.1,512.1 L767.5,494.3 L787.1,505.5 L787.1,510.9 L763,525.2 L766.2,527.9 L766.2,533.6 L727.3,533.6Z" fill="#000"/>
<path d="M727.3,506.8 L737.1,512.1 L767.5,494.3 L787.1,505.5 L756.8,522.9 L763,527.9 L727.3,527.9Z" fill="#fff" stroke="#000" stroke-width="1.2" stroke-linejoin="miter"/>
<text x="760" y="552.6" font-size="12.8" text-anchor="middle" fill="#333">358824</text>
</g>
<g filter="url(#bl0)">
<g fill="none" stroke="#484848" stroke-width="1">
<rect x="10.5" y="7.5" width="70" height="384"/>
<path d="M10.5,103.5 H80.5"/>
<path d="M10.5,151.5 H80.5"/>
<path d="M10.5,199.5 H80.5"/>
<path d="M10.5,247.5 H80.5"/>
<path d="M10.5,296.5 H80.5"/>
<path d="M10.5,343.5 H80.5"/>
</g>
<text class="b" transform="translate(16.9,26.0) scale(1.16,1)" font-size="19.0" x="-0.29">4</text>
<text class="b" transform="translate(17.3,121.8) scale(1.16,1)" font-size="19.0" x="-0.58">5</text>
<text class="b" transform="translate(17.3,169.3) scale(1.16,1)" font-size="19.0" x="-0.70">6</text>
<text class="b" transform="translate(17.3,217.2) scale(1.16,1)" font-size="19.0" x="-0.66">9</text>
<text class="b" transform="translate(12.6,265.2) scale(1.16,1)" font-size="19.0" x="-1.30 9.27" clip-path="url(#c10_190_s)">10</text>
<text class="b" transform="translate(13.2,313.3) scale(1.16,1)" font-size="19.0" x="-1.30 8.67" clip-path="url(#c11_190_s)">11</text>
<text class="b" transform="translate(12.6,361.2) scale(1.16,1)" font-size="19.0" x="-1.30 9.27" clip-path="url(#c12_190_s)">12</text>
<g>
<rect x="50.8" y="86" width="5" height="13.3" rx="0.8" fill="url(#gm)"/>
<rect x="50" y="20" width="6.6" height="68.5" fill="url(#gm)"/>
<ellipse cx="53.6" cy="17.8" rx="8.3" ry="3.7" fill="#9a9a9a"/>
<ellipse cx="53.6" cy="17" rx="8" ry="3.2" fill="#b4b4b4"/>
<path d="M48,11.5 Q48,8.6 53.8,8.6 Q59.6,8.6 59.6,11.5 L59.3,16.2 Q53.8,19 48.3,16.2Z" fill="#a2a2a2"/>
<ellipse cx="53.8" cy="11.6" rx="5.5" ry="2.9" fill="#c6c6c6"/>
<ellipse cx="53.8" cy="11.8" rx="3.2" ry="1.7" fill="#7a7a7a"/>
<rect x="52" y="91.5" width="1.7" height="5.5" fill="#6a6a6a"/>
</g>
<g fill="none" stroke="#666" stroke-width="1">
<ellipse cx="54" cy="107.8" rx="6.2" ry="2.4"/>
<ellipse cx="54" cy="111.1" rx="6.2" ry="2.4"/>
<ellipse cx="54" cy="114.4" rx="6.2" ry="2.4"/>
<ellipse cx="54" cy="117.7" rx="6.2" ry="2.4"/>
<ellipse cx="54" cy="121.0" rx="6.2" ry="2.4"/>
<ellipse cx="54" cy="124.3" rx="6.2" ry="2.4"/>
<ellipse cx="54" cy="127.6" rx="6.2" ry="2.4"/>
<ellipse cx="54" cy="130.9" rx="6.2" ry="2.4"/>
<ellipse cx="54" cy="134.2" rx="6.2" ry="2.4"/>
<ellipse cx="54" cy="137.5" rx="6.2" ry="2.4"/>
<ellipse cx="54" cy="140.8" rx="6.2" ry="2.4"/>
<ellipse cx="54" cy="144.1" rx="6.2" ry="2.4"/>
</g>
<g>
<path d="M38.5,178 L39.2,193 Q39.5,198 50.5,198.3 Q62,198 62,193 L62,176Z" fill="url(#gm)"/>
<path d="M38,178.5 Q50,186 62,178" stroke="#e4e4e4" stroke-width="2.2" fill="none"/>
<path d="M37.6,167 Q37,162 44,158 L56.5,153 L76,164 L76,168.8 L60.5,177.6 L43,177.8 Q37.6,175 37.6,171.5Z" fill="#858585"/>
<path d="M37.6,167 Q37,162 44,158 L56.5,153 L76,164 L60.5,172.6 L44,172.6 Q38,171 37.6,167Z" fill="#aeaeae"/>
<ellipse cx="50.5" cy="167" rx="4.6" ry="2.8" fill="#5a5a5a"/>
<path d="M39,177.5 Q50,182 61.5,176.5" stroke="#6a6a6a" stroke-width="1.3" fill="none"/>
</g>
<g>
<ellipse cx="50.5" cy="229.6" rx="25.4" ry="14.6" fill="#8e8e8e"/>
<ellipse cx="50.5" cy="227.6" rx="25.6" ry="14.6" fill="#d8d8d8"/>
<ellipse cx="50.5" cy="224.6" rx="25.7" ry="14.6" fill="url(#gd)"/>
<path d="M37,230.5 L62,216" stroke="#4e4e4e" stroke-width="1.7" stroke-linecap="round" fill="none"/>
</g>
<g>
<path d="M46.5,284 L49,292 L52.5,294.5 L56.5,292.5 L60,284Z" fill="#8a8a8a"/>
<ellipse cx="53.2" cy="277" rx="17.7" ry="9.3" fill="#8c8c8c"/>
<ellipse cx="53.2" cy="275" rx="17.7" ry="9.3" fill="#a9a9a9"/>
<rect x="50.5" y="258" width="5.8" height="17.5" rx="1.5" fill="url(#gm)"/>
<ellipse cx="53.5" cy="255.6" rx="10.5" ry="6.7" fill="url(#gr)"/>
</g>
<g>
<path d="M48.5,328 L49,337 Q54,343 59.5,337 L60,328Z" fill="#8a8a8a"/>
<ellipse cx="54.2" cy="323.6" rx="13.8" ry="7.5" fill="#8c8c8c"/>
<ellipse cx="54.2" cy="321.8" rx="13.8" ry="7.5" fill="#a9a9a9"/>
<rect x="51.5" y="306" width="5.5" height="16.5" rx="1.5" fill="url(#gm)"/>
<ellipse cx="54.5" cy="304.8" rx="10.5" ry="5.6" fill="#e0e0e0"/>
<ellipse cx="54.5" cy="303.7" rx="10.5" ry="5.6" fill="#b2b2b2"/>
</g>
<g>
<path d="M48.5,378 L49.5,386 Q53,392 56.5,387 L58,379Z" fill="#8e8e8e"/>
<path d="M30,364.5 L34,361 L42,360 L41.5,356.5 L45,354.5 L76.5,371.5 L76,375 L70,374.5 L70,378 L62,379.5 L60.5,383.5 L56,384 L30.5,368Z" fill="#8a8a8a"/>
<path d="M30,364.5 L34,361 L42,360 L41.5,356.5 L45,354.5 L76.5,371.5 L72,372.5 L69,375.5 L62,377 L59.5,381Z" fill="#b4b4b4"/>
<ellipse cx="54" cy="366.3" rx="9.3" ry="6" fill="#858585"/>
<ellipse cx="54" cy="364.8" rx="9" ry="5.7" fill="url(#gr)"/>
</g>
</g>
</svg>
</body></html>
